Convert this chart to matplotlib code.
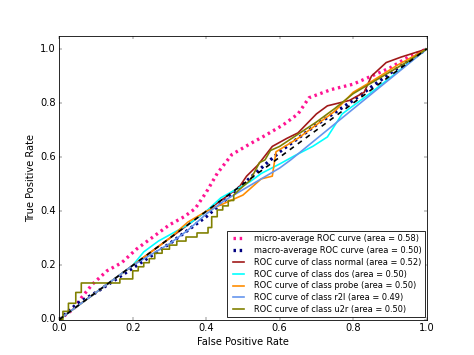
import matplotlib
matplotlib.use("Agg")
import matplotlib.pyplot as plt

plt.style.use("classic")

# micro-average ROC
micro_fpr = [0, 0.04, 0.06, 0.09, 0.13, 0.17, 0.21, 0.26, 0.30, 0.34, 0.37, 0.40, 0.43, 0.47,
             0.52, 0.56, 0.61, 0.65, 0.68, 0.74, 0.80, 0.85, 0.90, 0.95, 1.0]
micro_tpr = [0, 0.04, 0.08, 0.13, 0.18, 0.21, 0.26, 0.31, 0.35, 0.38, 0.41, 0.47, 0.54, 0.61,
             0.65, 0.68, 0.72, 0.76, 0.82, 0.85, 0.87, 0.90, 0.93, 0.97, 1.0]

# macro-average ROC
macro_fpr = [0, 0.05, 0.1, 0.2, 0.3, 0.4, 0.45, 0.5, 0.55, 0.6, 0.65, 0.7, 0.8, 0.9, 1.0]
macro_tpr = [0, 0.06, 0.1, 0.19, 0.28, 0.38, 0.44, 0.50, 0.56, 0.62, 0.67, 0.72, 0.81, 0.91, 1.0]

classes = ["normal", "dos", "probe", "r2l", "u2r"]
areas = [0.52, 0.50, 0.50, 0.49, 0.50]
colors = ["#a01818", "aqua", "darkorange", "cornflowerblue", "olive"]

normal_fpr = [0, 0.1, 0.2, 0.3, 0.4, 0.45, 0.49, 0.51, 0.54, 0.58, 0.62, 0.65, 0.70, 0.73,
              0.76, 0.79, 0.83, 0.85, 0.89, 0.93, 1.0]
normal_tpr = [0, 0.10, 0.20, 0.30, 0.40, 0.45, 0.49, 0.53, 0.57, 0.64, 0.67, 0.69, 0.76, 0.79,
              0.80, 0.81, 0.84, 0.90, 0.95, 0.97, 1.0]

dos_fpr = [0, 0.1, 0.2, 0.23, 0.27, 0.31, 0.35, 0.40, 0.44, 0.48, 0.52, 0.55, 0.60, 0.64,
           0.69, 0.73, 0.77, 0.85, 1.0]
dos_tpr = [0, 0.1, 0.2, 0.25, 0.29, 0.32, 0.35, 0.40, 0.45, 0.48, 0.51, 0.54, 0.575, 0.605,
           0.64, 0.675, 0.76, 0.84, 1.0]

probe_fpr = [0, 0.1, 0.2, 0.3, 0.35, 0.40, 0.45, 0.50, 0.55, 0.58, 0.59, 0.65, 0.70, 0.75,
             0.80, 0.85, 0.92, 1.0]
probe_tpr = [0, 0.1, 0.2, 0.3, 0.36, 0.40, 0.43, 0.46, 0.52, 0.53, 0.62, 0.67, 0.72, 0.77,
             0.84, 0.88, 0.94, 1.0]

r2l_fpr = [0, 0.1, 0.2, 0.3, 0.35, 0.4, 0.45, 0.5, 0.55, 0.60, 0.63, 1.0]
r2l_tpr = [0, 0.1, 0.2, 0.28, 0.33, 0.39, 0.44, 0.48, 0.52, 0.56, 0.59, 1.0]

u2r_fpr = [0, 0.01, 0.01, 0.025, 0.025, 0.045, 0.045, 0.06, 0.06, 0.165, 0.165, 0.20, 0.20,
           0.215, 0.215, 0.23, 0.23, 0.245, 0.245, 0.26, 0.26, 0.28, 0.28, 0.30, 0.30, 0.32,
           0.32, 0.345, 0.345, 0.375, 0.375, 0.405, 0.405, 0.415, 0.415, 0.43, 0.43, 0.445,
           0.445, 0.46, 0.46, 0.475, 0.475, 0.49, 0.52, 0.545, 0.56, 0.575, 0.60, 0.65, 0.70,
           0.75, 0.80, 0.85, 0.90, 0.95, 1.0]
u2r_tpr = [0, 0, 0.03, 0.03, 0.06, 0.06, 0.10, 0.10, 0.135, 0.135, 0.15, 0.15, 0.18,
           0.18, 0.195, 0.195, 0.21, 0.21, 0.225, 0.225, 0.245, 0.245, 0.26, 0.26, 0.275, 0.275,
           0.29, 0.29, 0.305, 0.305, 0.32, 0.32, 0.34, 0.34, 0.38, 0.38, 0.405, 0.405,
           0.42, 0.42, 0.44, 0.44, 0.46, 0.48, 0.515, 0.58, 0.59, 0.625, 0.64, 0.685, 0.73,
           0.78, 0.835, 0.875, 0.915, 0.955, 1.0]

class_fpr = [normal_fpr, dos_fpr, probe_fpr, r2l_fpr, u2r_fpr]
class_tpr = [normal_tpr, dos_tpr, probe_tpr, r2l_tpr, u2r_tpr]

fig = plt.figure(figsize=(8, 355 / 59.25), dpi=59.25)
ax = fig.add_subplot(111)
lw = 2

# dotted lines drawn as separated square dots, like the old matplotlib look
ax.plot(micro_fpr, micro_tpr, label="micro-average ROC curve (area = 0.58)",
        color="deeppink", linestyle=(0, (3, 4.5)), linewidth=4)
ax.plot(macro_fpr, macro_tpr, label="macro-average ROC curve (area = 0.50)",
        color="navy", linestyle=(0, (3, 4.5)), linewidth=4)

for name, area, c, fx, ty in zip(classes, areas, colors, class_fpr, class_tpr):
    ax.plot(fx, ty, color=c, lw=lw,
            label="ROC curve of class {0} (area = {1:0.2f})".format(name, area))

ax.plot([0, 1], [0, 1], "k--", lw=lw)
ax.set_xlim([0.0, 1.0])
ax.set_ylim([0.0, 1.05])
ax.set_xlabel("False Positive Rate")
ax.set_ylabel("True Positive Rate")
ax.legend(loc="lower right", fontsize=10, labelspacing=0.35, borderaxespad=0.25)

fig.savefig("out.png", dpi=59.25)
